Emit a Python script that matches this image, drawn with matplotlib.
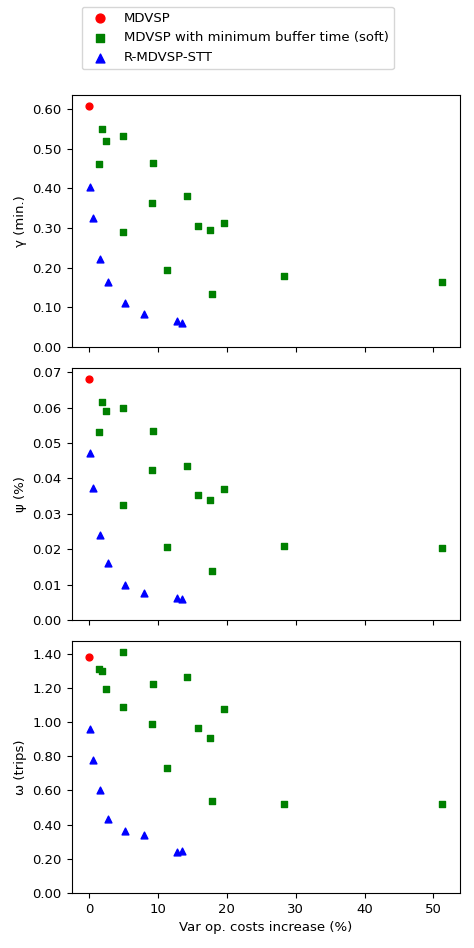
import matplotlib
matplotlib.use("Agg")
import matplotlib.pyplot as plt
from matplotlib.ticker import FormatStrFormatter

# MDVSP (baseline)
mdvsp_x = [0.0]
mdvsp_gamma = [0.607]
mdvsp_psi = [0.0680]
mdvsp_omega = [1.384]

# MDVSP with minimum buffer time (soft)
soft_x = [1.84, 2.37, 1.41, 4.94, 9.25, 9.11, 4.84, 11.34, 14.20, 15.75, 17.49, 19.57, 17.78, 28.34, 51.26]
soft_gamma = [0.549, 0.520, 0.461, 0.531, 0.463, 0.363, 0.289, 0.194, 0.380, 0.306, 0.294, 0.313, 0.133, 0.180, 0.164]
soft_psi = [0.0616, 0.0590, 0.0531, 0.0600, 0.0533, 0.0423, 0.0326, 0.0206, 0.0436, 0.0354, 0.0340, 0.0369, 0.0139, 0.0208, 0.0203]
soft_omega = [1.301, 1.195, 1.312, 1.412, 1.225, 0.991, 1.090, 0.732, 1.264, 0.964, 0.909, 1.075, 0.537, 0.520, 0.520]

# R-MDVSP-STT
stt_x = [0.15, 0.58, 1.50, 2.76, 5.23, 7.99, 12.79, 13.47]
stt_gamma = [0.403, 0.326, 0.221, 0.165, 0.110, 0.084, 0.065, 0.060]
stt_psi = [0.0472, 0.0374, 0.0240, 0.0162, 0.0100, 0.0076, 0.0062, 0.0059]
stt_omega = [0.958, 0.781, 0.604, 0.436, 0.360, 0.337, 0.238, 0.243]

labels = ["MDVSP", "MDVSP with minimum buffer time (soft)", "R-MDVSP-STT"]
ylabels = ["γ (min.)", "ψ (%)", "ω (trips)"]
xlabel = "Var op. costs increase (%)"

plt.rcParams['font.size'] = 9.5

fig, axes = plt.subplots(3, 1, figsize=(4.74, 9.48), dpi=100, sharex=True)
fig.subplots_adjust(left=0.151, right=0.970, top=0.8998, bottom=0.058, hspace=0.083)

data = [
    (mdvsp_gamma, soft_gamma, stt_gamma),
    (mdvsp_psi, soft_psi, stt_psi),
    (mdvsp_omega, soft_omega, stt_omega),
]
for ax, (m, s, t), yl in zip(axes, data, ylabels):
    ax.scatter(mdvsp_x, m, c='red', marker='o', s=24, label=labels[0])
    ax.scatter(soft_x, s, c='green', marker='s', s=24, label=labels[1])
    ax.scatter(stt_x, t, c='blue', marker='^', s=24, label=labels[2])
    ax.set_ylabel(yl)
    ax.yaxis.set_major_formatter(FormatStrFormatter('%.2f'))

axes[2].set_xlabel(xlabel)
axes[0].set_ylim(0, 0.635)
axes[1].set_ylim(0, 0.0712)
axes[2].set_ylim(0, 1.475)

h, l = axes[0].get_legend_handles_labels()
fig.legend(h, l, loc='upper center', bbox_to_anchor=(0.502, 1.0), markerscale=1.3)

fig.savefig("out.png", dpi=100)
